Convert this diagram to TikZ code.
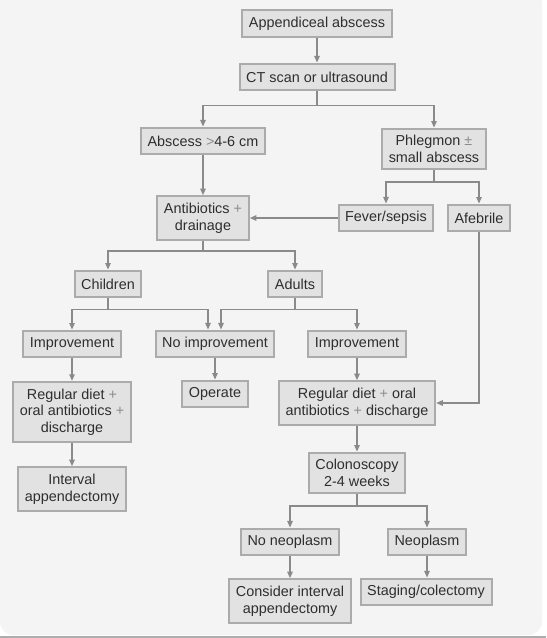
\documentclass[tikz,border=0pt]{standalone}
\usepackage{fontspec}
\setmainfont{Liberation Sans}
\usetikzlibrary{arrows.meta}

\definecolor{bgc}{HTML}{F4F4F4}
\definecolor{boxfill}{HTML}{E2E2E2}
\definecolor{boxline}{HTML}{ABABAB}
\definecolor{linec}{HTML}{8A8A8A}
\definecolor{textc}{HTML}{2E2E2E}
\definecolor{symc}{HTML}{8C8C8C}
\newcommand{\sym}[1]{\textcolor{symc}{#1}}

\begin{document}
\begin{tikzpicture}[x=0.75pt, y=-0.75pt,
  box/.style={draw=boxline, line width=1.5pt, fill=boxfill, text=textc,
    align=center, inner xsep=5pt, inner ysep=5pt, minimum height=20pt,
    font=\fontsize{10.8}{12.5}\selectfont},
  arr/.style={draw=linec, line width=1.2pt,
    -{Triangle[length=5pt,width=4pt]}}]

\useasboundingbox (0,0) rectangle (546,638);
\fill[white] (0,0) rectangle (546,638);
\fill[bgc, rounded corners=10pt] (0,-10) rectangle (542,635);
\draw[linec!70, line width=1.2pt] (0,637) -- (546,637);

\node[box] (app) at (317,23.5) {Appendiceal abscess};
\node[box] (ct) at (317,77) {CT scan or ultrasound};
\node[box] (big) at (203,141) {Abscess \sym{>}4-6 cm};
\node[box] (phleg) at (434,149) {Phlegmon \sym{±}\\small abscess};
\node[box] (anti) at (203,218) {Antibiotics \sym{+}\\drainage};
\node[box] (fever) at (386,218) {Fever/sepsis};
\node[box] (afeb) at (479,218) {Afebrile};
\node[box] (child) at (108,284) {Children};
\node[box] (adult) at (295,284) {Adults};
\node[box] (impC) at (72,344) {Improvement};
\node[box] (noimp) at (215,344) {No improvement};
\node[box] (impA) at (357,344) {Improvement};
\node[box] (dietC) at (72,412) {Regular diet \sym{+}\\oral antibiotics \sym{+}\\discharge};
\node[box] (oper) at (215,394) {Operate};
\node[box] (dietA) at (357,403) {Regular diet \sym{+} oral\\antibiotics \sym{+} discharge};
\node[box] (interval) at (72,489) {Interval\\appendectomy};
\node[box] (colon) at (357,473) {Colonoscopy\\2-4 weeks};
\node[box] (noneo) at (290,542) {No neoplasm};
\node[box] (neo) at (427,542) {Neoplasm};
\node[box] (consider) at (290,601) {Consider interval\\appendectomy};
\node[box] (staging) at (426,592) {Staging/colectomy};

\draw[arr] (app) -- (ct);
\draw[arr] (ct.south) -- ++(0,14) -| (big.north);
\draw[arr] (ct.south) -- ++(0,14) -| (phleg.north);
\draw[arr] (big) -- (anti);
\draw[arr] (phleg.south) -- ++(0,12) -| (fever.north);
\draw[arr] (phleg.south) -- ++(0,12) -| (afeb.north);
\draw[arr] (fever) -- (anti);
\draw[arr] (anti.south) -- ++(0,10) -| (child.north);
\draw[arr] (anti.south) -- ++(0,10) -| (adult.north);
\draw[arr] (child.south) -- ++(0,11) -| (impC.north);
\draw[arr] (child.south) -- ++(0,11) -| ([xshift=-7pt*0.75]noimp.north);
\draw[arr] (adult.south) -- ++(0,11) -| ([xshift=6pt*0.75]noimp.north);
\draw[arr] (adult.south) -- ++(0,11) -| (impA.north);
\draw[arr] (impC) -- (dietC);
\draw[arr] (noimp) -- (oper);
\draw[arr] (impA) -- (dietA);
\draw[arr] (afeb.south) |- (dietA.east);
\draw[arr] (dietC) -- (interval);
\draw[arr] (dietA) -- (colon);
\draw[arr] (colon.south) -- ++(0,12) -| (noneo.north);
\draw[arr] (colon.south) -- ++(0,12) -| (neo.north);
\draw[arr] (noneo) -- (consider);
\draw[arr] (neo.south) -- ([xshift=1pt*0.75]staging.north);
\end{tikzpicture}
\end{document}
